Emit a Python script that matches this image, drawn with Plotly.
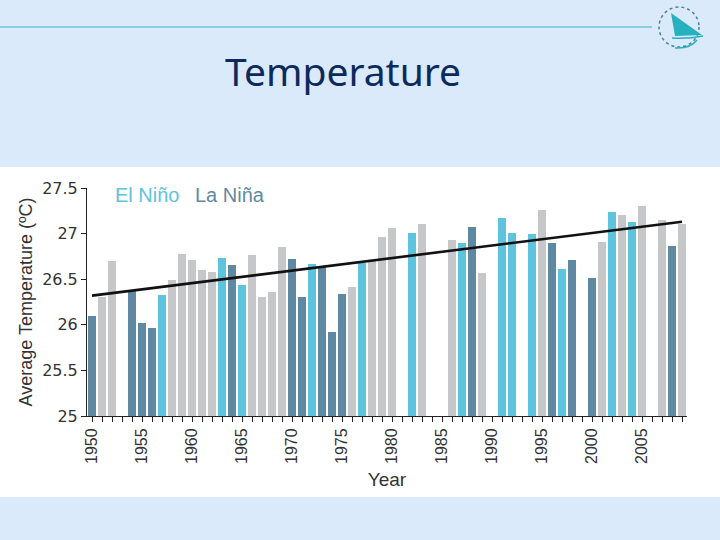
import plotly.graph_objects as go

# ---------------- data ----------------
years = list(range(1950, 2010))
temps = [26.10, 26.31, 26.70, None, 26.37, 26.02, 25.97, 26.33, 26.49, 26.78,
         26.71, 26.60, 26.58, 26.73, 26.66, 26.44, 26.77, 26.30, 26.36, 26.85,
         26.72, 26.30, 26.67, 26.65, 25.92, 26.34, 26.41, 26.68, 26.70, 26.96,
         27.06, None, 27.01, 27.11, None, None, 26.93, 26.90, 27.07, 26.57,
         None, 27.17, 27.01, None, 27.00, 27.26, 26.90, 26.61, 26.71, None,
         26.51, 26.91, 27.24, 27.20, 27.13, 27.30, None, 27.15, 26.86, 27.10]
phase = ["L", "N", "N", None, "L", "L", "L", "E", "N", "N",
         "N", "N", "N", "E", "L", "E", "N", "N", "N", "N",
         "L", "L", "E", "L", "L", "L", "N", "E", "N", "N",
         "N", None, "E", "N", None, None, "N", "E", "L", "N",
         None, "E", "E", None, "E", "N", "L", "E", "L", None,
         "L", "N", "E", "N", "E", "N", None, "N", "L", "N"]
trend_years = [1950, 2009]
trend_vals = [26.32, 27.13]
y_ticks = [25, 25.5, 26, 26.5, 27, 27.5]
y_tick_text = ["25", "25.5", "26", "26.5", "27", "27.5"]
legend_labels = ["El Niño", "La Niña"]

# ---------------- styles ----------------
C_EL = "#5EC3DC"
C_LA = "#5F89A2"
C_NE = "#C6C7C9"
phase_color = {"E": C_EL, "L": C_LA, "N": C_NE, None: "rgba(0,0,0,0)"}
colors = [phase_color[p] for p in phase]

W, H = 720, 540
def px_x(x):
    return x / W
def px_y(y):
    return 1 - y / H

fig = go.Figure()
fig.add_trace(go.Bar(x=years, y=[(t - 25) if t is not None else None for t in temps],
                     base=25, marker=dict(color=colors, line=dict(width=0)),
                     width=0.75, showlegend=False, hoverinfo="x+y"))
fig.add_trace(go.Scatter(x=trend_years, y=trend_vals, mode="lines",
                         line=dict(color="#111111", width=2.6), showlegend=False))

fig.update_layout(
    width=W, height=H,
    margin=dict(l=0, r=0, t=0, b=0, autoexpand=False),
    paper_bgcolor="#DBEAFB",
    plot_bgcolor="rgba(0,0,0,0)",
    bargap=0,
    xaxis=dict(domain=[px_x(87), px_x(687)], range=[1949.5, 2009.5], automargin=False,
               tickmode="linear", tick0=1950, dtick=5, tickangle=-90,
               ticks="outside", ticklen=5, tickwidth=1, tickcolor="#222",
               minor=dict(dtick=1, tick0=1950, ticks="outside", ticklen=5, tickcolor="#222", showgrid=False),
               showline=True, linecolor="#222", linewidth=1,
               showgrid=False, zeroline=False,
               tickfont=dict(family="Liberation Sans, Arial", size=16, color="#333333"),
               title=dict(text="Year", font=dict(family="Liberation Sans, Arial", size=19, color="#333"),
                          standoff=9)),
    yaxis=dict(domain=[px_y(416), px_y(188)], range=[25, 27.5], automargin=False,
               tickvals=y_ticks, ticktext=y_tick_text,
               ticks="outside", ticklen=5, tickwidth=1, tickcolor="#222",
               showline=True, linecolor="#222", linewidth=1,
               showgrid=False, zeroline=False,
               tickfont=dict(family="DejaVu Sans", size=16, color="#333333"),
               title=dict(text="Average Temperature (ºC)",
                          font=dict(family="Liberation Sans, Arial", size=18, color="#333"),
                          standoff=4)),
    shapes=[
        dict(type="rect", xref="paper", yref="paper", x0=0, x1=1,
             y0=px_y(497), y1=px_y(167), fillcolor="white", line=dict(width=0), layer="below"),
        dict(type="line", xref="paper", yref="paper", x0=0, x1=px_x(652),
             y0=px_y(27), y1=px_y(27), line=dict(color="#6CC5D6", width=1.5)),
        dict(type="circle", xref="paper", yref="paper",
             x0=px_x(659), x1=px_x(699), y0=px_y(47), y1=px_y(7),
             line=dict(color="#4A7FA8", width=1.5, dash="dot")),
        dict(type="path", xref="paper", yref="paper",
             path=f"M {px_x(671)} {px_y(13)} L {px_x(702)} {px_y(35)} L {px_x(675)} {px_y(36)} Z",
             fillcolor="#27B0BE", line=dict(width=0)),
        dict(type="path", xref="paper", yref="paper",
             path=f"M {px_x(672)} {px_y(38)} Q {px_x(688)} {px_y(39)} {px_x(703)} {px_y(36)}",
             line=dict(color="#27B0BE", width=1.5)),
        dict(type="path", xref="paper", yref="paper",
             path=f"M {px_x(675)} {px_y(48)} Q {px_x(690)} {px_y(49)} {px_x(697)} {px_y(40)}",
             line=dict(color="#27B0BE", width=1.5)),
    ],
    annotations=[
        dict(text="Temperature", xref="paper", yref="paper", x=px_x(343), y=px_y(70),
             showarrow=False, xanchor="center", yanchor="middle",
             font=dict(family="Noto Sans", size=39, color="#0D2A5C")),
        dict(text=legend_labels[0], xref="paper", yref="paper", x=px_x(113), y=px_y(195),
             showarrow=False, xanchor="left", yanchor="middle",
             font=dict(family="Liberation Sans, Arial", size=20, color=C_EL)),
        dict(text=legend_labels[1], xref="paper", yref="paper", x=px_x(193), y=px_y(195),
             showarrow=False, xanchor="left", yanchor="middle",
             font=dict(family="Liberation Sans, Arial", size=20, color=C_LA)),
    ],
)

fig.write_html("out.html")
